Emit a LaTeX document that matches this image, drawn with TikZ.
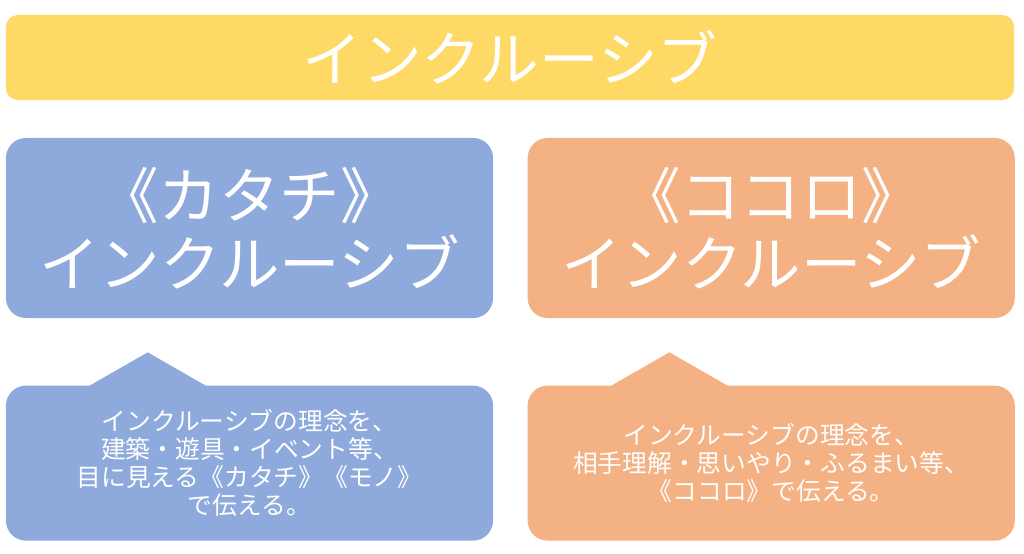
\documentclass[tikz,border=0pt]{standalone}
\usepackage{fontspec}
\newfontfamily\jp{Noto Sans CJK JP}
\usetikzlibrary{positioning}

\definecolor{barYellow}{HTML}{FFD966}
\definecolor{kataBlue}{HTML}{8EA9DB}
\definecolor{kokoOrange}{HTML}{F4B183}

\tikzset{
  panel/.style={rounded corners=0.5cm, minimum width=12.175cm, inner sep=0pt,
    align=center, text=white},
  headbox/.style={panel, minimum height=4.5cm, font={\jp\fontsize{43}{48}\selectfont}},
  descbox/.style={panel, minimum height=3.875cm, font={\jp\fontsize{17.6}{20}\selectfont}},
  titlebar/.style={rounded corners=0.3cm, fill=barYellow, minimum width=25.2cm,
    minimum height=2.125cm, text=white, font={\jp\fontsize{42.5}{48}\selectfont}}
}

\begin{document}
\begin{tikzpicture}[x=0.025cm, y=-0.025cm, node distance=0.85cm]

    \useasboundingbox (0,0) rectangle (1024,553);

    % title bar
    \node[titlebar] (title) at (510,57.5) {インクルーシブ};

    % the two heads
    \node[headbox, fill=kataBlue] (kata) at (249.5,228) {《カタチ》\\インクルーシブ};
    \node[headbox, fill=kokoOrange, right=of kata] (koko) {《ココロ》\\インクルーシブ};

    % callouts
    \node[descbox, fill=kataBlue, below=1.675cm of kata] (kataDesc)
      {インクルーシブの理念を、\\建築・遊具・イベント等、\\目に見える《カタチ》《モノ》\\で伝える。};
    \node[descbox, fill=kokoOrange, below=1.675cm of koko] (kokoDesc)
      {インクルーシブの理念を、\\相手理解・思いやり・ふるまい等、\\《ココロ》で伝える。};

    % pointers of the callouts
    \foreach \d/\c in {kataDesc/kataBlue, kokoDesc/kokoOrange}
    {
      \fill[\c] ([xshift=2.05cm, yshift=-1pt]\d.north west)
        -- ([xshift=3.55cm, yshift=0.825cm]\d.north west)
        -- ([xshift=5.05cm, yshift=-1pt]\d.north west) -- cycle;
    }
  \end{tikzpicture}
\end{document}
